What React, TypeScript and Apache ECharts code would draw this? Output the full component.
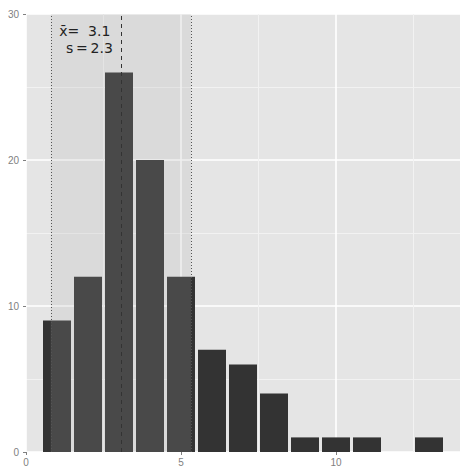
import React, { useEffect, useRef } from "react";
import * as echarts from "echarts";

// Histogram bins (x position) and counts
const binCenters = [1, 2, 3, 4, 5, 6, 7, 8, 9, 10, 11, 13];
const counts = [9, 12, 26, 20, 12, 7, 6, 4, 1, 1, 1, 1];

// Summary statistics (line positions) and their printed labels
const meanValue = 3.06;
const sdValue = 2.26;
const meanLabel = "3.1";
const sdLabel = "2.3";

// Axis ticks
const xTickValues = [0, 5, 10];
const xMax = 14;
const yMax = 30;

export default function App() {
  const ref = useRef<HTMLDivElement>(null);

  useEffect(() => {
    document.body.style.margin = "0";
    const chart = echarts.init(ref.current!, null, { renderer: "svg" });

    const lo = meanValue - sdValue;
    const hi = meanValue + sdValue;

    const axisLabelStyle = {
      color: "#7f7f7f",
      fontSize: 10,
      fontFamily: "Liberation Sans, Arial, sans-serif",
    };

    chart.setOption({
      animation: false,
      backgroundColor: "#ffffff",
      grid: {
        left: 26,
        right: 14,
        top: 14,
        bottom: 22,
        show: true,
        backgroundColor: "#e5e5e5",
        borderWidth: 0,
      },
      xAxis: [
        {
          type: "value",
          min: 0,
          max: xMax,
          interval: 5,
          axisLine: { show: false },
          axisTick: {
            show: true,
            length: 3,
            customValues: xTickValues,
            lineStyle: { color: "#7f7f7f" },
          },
          axisLabel: {
            ...axisLabelStyle,
            margin: 5,
            customValues: xTickValues,
          },
          splitLine: { show: true, lineStyle: { color: "#ffffff", width: 1.6 } },
        },
        {
          type: "value",
          min: 0,
          max: xMax,
          interval: 2.5,
          position: "bottom",
          axisLine: { show: false },
          axisTick: { show: false },
          axisLabel: { show: false },
          splitLine: {
            show: true,
            lineStyle: { color: ["rgba(0,0,0,0)", "#f2f2f2"], width: 1 },
          },
        },
      ],
      yAxis: {
        type: "value",
        min: 0,
        max: yMax,
        interval: 10,
        axisLine: { show: false },
        axisTick: { show: true, length: 3, lineStyle: { color: "#7f7f7f" } },
        axisLabel: { ...axisLabelStyle, margin: 7 },
        splitLine: { show: true, lineStyle: { color: "#ffffff", width: 1.6 } },
        minorTick: { show: false, splitNumber: 2 },
        minorSplitLine: { show: true, lineStyle: { color: "#f2f2f2", width: 1 } },
      },
      series: [
        {
          type: "bar",
          xAxisIndex: 0,
          yAxisIndex: 0,
          barWidth: 28,
          itemStyle: { color: "#333333" },
          data: binCenters.map((x, i) => [x, counts[i]]),
          markArea: {
            silent: true,
            z: 3,
            itemStyle: { color: "rgba(172,172,172,0.19)" },
            data: [[{ xAxis: lo }, { xAxis: hi }]],
          },
          markLine: {
            silent: true,
            symbol: ["none", "none"],
            label: { show: false },
            z: 5,
            data: [
              { xAxis: lo, lineStyle: { type: [1, 2], color: "#555555", width: 1 } },
              { xAxis: meanValue, lineStyle: { type: [4, 4], color: "#333333", width: 1 } },
              { xAxis: hi, lineStyle: { type: [1, 2], color: "#555555", width: 1 } },
            ],
          },
          markPoint: {
            silent: true,
            z: 6,
            symbol: "circle",
            symbolSize: 0,
            label: {
              show: true,
              position: "left",
              distance: 0,
              color: "#222222",
              fontSize: 14,
              fontFamily: "DejaVu Sans, sans-serif",
            },
            data: [
              { coord: [2.72, 28.84], value: 0, label: { formatter: "x\u0304=  " + meanLabel } },
              { coord: [2.8, 27.67], value: 0, label: { formatter: "s\u2009=\u2009" + sdLabel } },
            ],
          },
        },
      ],
    });

    return () => chart.dispose();
  }, []);

  return <div ref={ref} style={{ width: 474, height: 474 }} />;
}
